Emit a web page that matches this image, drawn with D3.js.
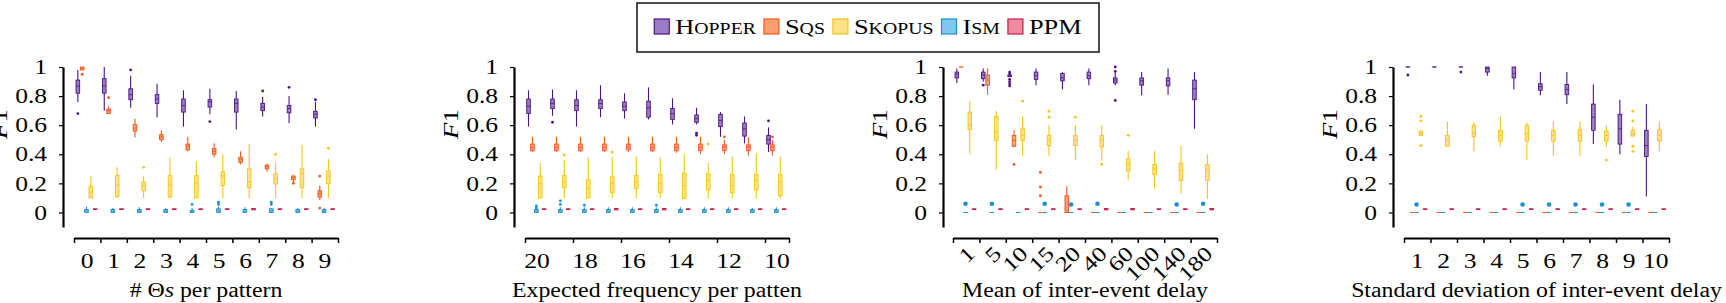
<!DOCTYPE html>
<html>
<head>
<meta charset="utf-8">
<script src="https://cdn.jsdelivr.net/npm/d3@7"></script>
<style>
  body { margin: 0; background: #fff; }
  svg text { font-family: "Liberation Serif", "DejaVu Serif", serif !important; fill: #000; }
</style>
</head>
<body>
<svg id="chart" width="1726" height="303"></svg>
<script>
// Box stats are [lower whisker, q1, median, q3, upper whisker]

// Panel 1: # Θs per pattern
var p1Cats = ["0", "1", "2", "3", "4", "5", "6", "7", "8", "9"];
var p1Hopper = [[0.76,0.82,0.87,0.91,0.98],[0.70,0.82,0.87,0.92,1.00],[0.72,0.775,0.81,0.85,0.94],[0.655,0.75,0.78,0.81,0.885],[0.59,0.69,0.735,0.78,0.84],
                [0.675,0.725,0.76,0.775,0.85],[0.57,0.69,0.75,0.78,0.835],[0.66,0.70,0.725,0.75,0.795],[0.615,0.685,0.715,0.735,0.80],[0.59,0.65,0.675,0.695,0.76]];
var p1HopperOut = [[0.68],[],[0.98],[],[],[0.625],[],[0.835],[0.86],[0.775]];
var p1Sqs = [[0.98,0.98,0.99,1.0,1.0],[0.675,0.68,0.70,0.71,0.73],[0.515,0.56,0.58,0.605,0.645],[0.485,0.50,0.52,0.535,0.565],[0.42,0.43,0.455,0.47,0.52],
             [0.38,0.40,0.42,0.44,0.475],[0.33,0.345,0.365,0.38,0.42],[0.28,0.30,0.315,0.325,0.335],[0.20,0.225,0.24,0.25,0.26],[0.085,0.105,0.13,0.15,0.185]];
var p1SqsOut = [[0.95],[0.79],[],[],[],[],[],[],[0.20],[0.25,0.03]];
var p1Skopus = [[0.10,0.10,0.14,0.18,0.25],[0.10,0.11,0.19,0.255,0.31],[0.10,0.15,0.185,0.21,0.25],[0.10,0.105,0.195,0.255,0.38],[0.10,0.10,0.20,0.255,0.35],
                [0.10,0.185,0.25,0.28,0.40],[0.10,0.17,0.21,0.30,0.47],[0.10,0.195,0.23,0.265,0.345],[0.10,0.17,0.265,0.30,0.465],[0.10,0.20,0.25,0.285,0.37]];
var p1SkopusOut = [[],[],[0.31],[],[],[],[],[0.40],[],[0.44]];
var p1Ism = [[0,0,0.01,0.02,0.04],[0,0,0.01,0.02,0.03],[0,0,0.01,0.02,0.035],[0,0,0.01,0.02,0.03],[0,0,0.005,0.015,0.03],
             [0,0,0.01,0.025,0.04],[0,0,0.01,0.02,0.035],[0,0,0.01,0.025,0.03],[0,0,0.01,0.02,0.03],[0,0,0.01,0.02,0.03]];
var p1IsmOut = [[],[],[],[],[0.055],[0.055,0.07],[],[0.055,0.07],[],[]];
var p1Ppm = [[0.02,0.02,0.022,0.025,0.025],[0.02,0.02,0.022,0.025,0.025],[0.02,0.02,0.022,0.025,0.025],[0.02,0.02,0.022,0.025,0.025],[0.02,0.02,0.022,0.025,0.025],
             [0.02,0.02,0.022,0.025,0.025],[0.018,0.018,0.022,0.027,0.027],[0.02,0.02,0.022,0.025,0.025],[0.02,0.02,0.022,0.025,0.025],[0.02,0.02,0.022,0.025,0.025]];
var p1PpmOut = [[],[],[],[],[],[],[],[],[],[]];

// Panel 2: expected frequency per pattern
var p2Cats = ["20", "19", "18", "17", "16", "15", "14", "13", "12", "11", "10"];
var p2Labels = ["20", "18", "16", "14", "12", "10"];
var p2Hopper = [[0.59,0.68,0.73,0.78,0.84],[0.665,0.715,0.75,0.78,0.845],[0.59,0.70,0.735,0.775,0.84],[0.655,0.715,0.75,0.775,0.875],[0.645,0.70,0.73,0.76,0.82],
                [0.64,0.655,0.72,0.765,0.86],[0.605,0.64,0.68,0.715,0.785],[0.605,0.62,0.645,0.67,0.72],[0.52,0.59,0.633,0.675,0.69],[0.475,0.525,0.575,0.615,0.66],[0.415,0.47,0.50,0.53,0.585]];
var p2HopperOut = [[],[0.62],[],[],[],[],[],[0.53,0.545],[],[],[0.63]];
var p2Sqs = [[0.415,0.425,0.45,0.47,0.52],[0.415,0.425,0.45,0.47,0.52],[0.415,0.425,0.45,0.47,0.52],[0.415,0.425,0.45,0.47,0.52],[0.415,0.43,0.45,0.47,0.52],
             [0.415,0.425,0.45,0.47,0.52],[0.41,0.425,0.45,0.47,0.52],[0.40,0.425,0.45,0.47,0.52],[0.40,0.425,0.45,0.465,0.50],[0.39,0.425,0.45,0.465,0.515],[0.39,0.425,0.45,0.465,0.50]];
var p2SqsOut = [[],[],[],[],[],[],[],[],[0.52],[],[0.52]];
var p2Skopus = [[0.10,0.10,0.20,0.25,0.34],[0.10,0.17,0.21,0.255,0.36],[0.10,0.10,0.165,0.225,0.38],[0.10,0.135,0.20,0.245,0.385],[0.10,0.165,0.21,0.255,0.385],
                [0.10,0.135,0.20,0.26,0.38],[0.095,0.095,0.185,0.27,0.40],[0.10,0.155,0.22,0.265,0.34],[0.10,0.135,0.185,0.26,0.385],[0.10,0.155,0.22,0.26,0.405],[0.10,0.115,0.21,0.26,0.385]];
var p2SkopusOut = [[],[0.395],[],[0.415],[],[],[],[0.47],[],[],[]];
var p2Ism = [[0,0,0.01,0.02,0.04],[0,0,0.01,0.02,0.035],[0,0,0.01,0.02,0.035],[0,0,0.01,0.02,0.035],[0,0,0.01,0.02,0.035],
             [0,0,0.01,0.02,0.035],[0,0,0.01,0.02,0.035],[0,0,0.01,0.02,0.035],[0,0,0.01,0.02,0.035],[0,0,0.01,0.02,0.03],[0,0,0.01,0.02,0.035]];
var p2IsmOut = [[0.03,0.045],[0.055,0.08],[0.05],[],[],[0.05],[],[],[],[],[]];
var p2Ppm = [[0.02,0.02,0.022,0.025,0.025],[0.02,0.02,0.022,0.025,0.025],[0.02,0.02,0.022,0.025,0.025],[0.018,0.018,0.022,0.027,0.027],[0.02,0.02,0.022,0.025,0.025],
             [0.018,0.018,0.022,0.027,0.027],[0.02,0.02,0.022,0.025,0.025],[0.02,0.02,0.022,0.025,0.025],[0.02,0.02,0.022,0.025,0.025],[0.02,0.02,0.022,0.025,0.025],[0.02,0.02,0.022,0.025,0.025]];
var p2PpmOut = [[],[],[],[],[],[],[],[],[],[],[]];

// Panel 3: mean of inter-event delay
var p3Cats = ["1", "5", "10", "15", "20", "40", "60", "100", "140", "180"];
var p3Hopper = [[0.89,0.925,0.95,0.965,0.99],[0.90,0.92,0.945,0.965,0.99],[0.93,0.935,0.94,0.945,0.95],[0.875,0.915,0.94,0.965,0.99],[0.845,0.905,0.925,0.955,0.965],
                [0.875,0.92,0.94,0.965,0.99],[0.875,0.89,0.91,0.925,0.965],[0.805,0.875,0.905,0.925,0.965],[0.81,0.87,0.905,0.925,0.99],[0.575,0.775,0.85,0.91,0.965]];
var p3HopperOut = [[],[0.875],[0.87,0.885,0.90,0.915,0.955,0.965],[],[],[],[0.77,0.97,1.0],[],[],[]];
var p3Sqs = [[1,1,1,1,1],[0.81,0.875,0.91,0.945,0.99],[0.45,0.455,0.495,0.53,0.565],[0,0,0,0,0],[0,0,0,0.115,0.18],
             [0,0,0,0,0],[0,0,0,0,0],[0,0,0,0,0],[0,0,0,0,0],[0,0,0,0,0]];
var p3SqsOut = [[],[],[0.33],[0.115,0.175,0.275],[],[],[],[],[],[]];
var p3Skopus = [[0.40,0.57,0.60,0.69,0.765],[0.295,0.495,0.555,0.66,0.70],[0.39,0.495,0.53,0.575,0.66],[0.39,0.46,0.495,0.53,0.60],[0.36,0.46,0.495,0.53,0.60],
                [0.355,0.45,0.50,0.53,0.60],[0.22,0.285,0.335,0.37,0.425],[0.165,0.26,0.30,0.33,0.425],[0.13,0.22,0.29,0.34,0.46],[0.095,0.22,0.295,0.33,0.40]];
var p3SkopusOut = [[],[],[0.765],[0.655,0.695],[0.655],[0.33],[0.53],[],[],[]];
var p3Ism = [[0,0,0,0,0],[0,0,0,0,0],[0,0,0,0,0],[0,0,0,0,0],[0,0,0,0,0],[0,0,0,0,0],[0,0,0,0,0],[0,0,0,0,0],[0,0,0,0,0],[0,0,0,0,0]];
var p3IsmOut = [[0.06],[0.06],[],[0.06],[0.055],[0.06],[],[],[0.055],[0.06]];
var p3Ppm = [[0.02,0.02,0.022,0.025,0.025],[0.02,0.02,0.022,0.025,0.025],[0.02,0.02,0.022,0.025,0.025],[0.02,0.02,0.022,0.025,0.025],[0.02,0.02,0.022,0.025,0.025],
             [0.018,0.018,0.022,0.027,0.027],[0.018,0.018,0.022,0.027,0.027],[0.02,0.02,0.022,0.025,0.025],[0.02,0.02,0.022,0.025,0.025],[0.018,0.018,0.022,0.027,0.027]];
var p3PpmOut = [[],[],[],[],[],[],[],[],[],[]];

// Panel 4: standard deviation of inter-event delay
var p4Cats = ["1", "2", "3", "4", "5", "6", "7", "8", "9", "10"];
var p4Hopper = [[1,1,1,1,1],[1,1,1,1,1],[1,1,1,1,1],[0.94,0.965,0.99,1,1],[0.845,0.925,0.955,1,1],
                [0.805,0.84,0.865,0.885,0.965],[0.745,0.81,0.845,0.88,0.965],[0.47,0.565,0.655,0.745,0.88],[0.40,0.47,0.575,0.675,0.775],[0.11,0.385,0.46,0.565,0.745]];
var p4HopperOut = [[0.945],[],[0.965],[],[],[],[],[],[],[]];
var p4Sqs = [[0,0,0,0,0],[0,0,0,0,0],[0,0,0,0,0],[0,0,0,0,0],[0,0,0,0,0],[0,0,0,0,0],[0,0,0,0,0],[0,0,0,0,0],[0,0,0,0,0],[0,0,0,0,0]];
var p4SqsOut = [[],[],[],[],[],[],[],[],[],[]];
var p4Skopus = [[0.53,0.53,0.545,0.56,0.56],[0.455,0.455,0.495,0.53,0.625],[0.42,0.52,0.545,0.60,0.62],[0.455,0.49,0.53,0.565,0.66],[0.36,0.49,0.54,0.60,0.62],
                [0.39,0.49,0.53,0.565,0.625],[0.39,0.49,0.53,0.57,0.625],[0.45,0.49,0.53,0.56,0.60],[0.525,0.525,0.54,0.565,0.59],[0.42,0.49,0.53,0.57,0.625]];
var p4SkopusOut = [[0.46,0.63,0.66],[],[],[],[],[],[],[0.36],[0.42,0.455,0.63,0.695],[]];
var p4Ism = [[0,0,0,0,0],[0,0,0,0,0],[0,0,0,0,0],[0,0,0,0,0],[0,0,0,0,0],[0,0,0,0,0],[0,0,0,0,0],[0,0,0,0,0],[0,0,0,0,0],[0,0,0,0,0]];
var p4IsmOut = [[0.055],[],[],[],[0.055],[0.055],[0.055],[0.055],[0.055],[]];
var p4Ppm = [[0.02,0.02,0.022,0.025,0.025],[0.02,0.02,0.022,0.025,0.025],[0.02,0.02,0.022,0.025,0.025],[0.02,0.02,0.022,0.025,0.025],[0.02,0.02,0.022,0.025,0.025],
             [0.02,0.02,0.022,0.025,0.025],[0.02,0.02,0.022,0.025,0.025],[0.02,0.02,0.022,0.025,0.025],[0.02,0.02,0.022,0.025,0.025],[0.02,0.02,0.022,0.025,0.025]];
var p4PpmOut = [[],[],[],[],[],[],[],[],[],[]];

var yTicks = [0, 0.2, 0.4, 0.6, 0.8, 1];

// Legend order and in-group order differ
var legendOrder = ["Hopper", "Sqs", "Skopus", "Ism", "PPM"];
var slotOrder = ["Hopper", "Sqs", "Ism", "Skopus", "PPM"];
var legendNames = {Hopper: ["H", "OPPER"], Sqs: ["S", "QS"], Skopus: ["S", "KOPUS"], Ism: ["I", "SM"], PPM: ["PPM", ""]};
var strokeCol = {Hopper: "#4a1486", Sqs: "#ee5a1c", Skopus: "#f7c21c", Ism: "#1e8fd0", PPM: "#c81c4a"};
var fillCol = {Hopper: "#9e7bc5", Sqs: "#fc9e70", Skopus: "#fde28a", Ism: "#84c7ec", PPM: "#ef8aa2"};

var serif = "'Liberation Serif', 'DejaVu Serif', serif";
var sx = 1.22;   // horizontal stretch of the original figure's text
var boxW = 3.6;

var panels = [
  {cats: p1Cats, labels: p1Cats, tickEvery: 1, left: 63, x0: 74, x1: 338, rotate: false, bigIsm: false,
   title: [["# Θ", false], ["s", true], [" per pattern", false]],
   series: {Hopper: [p1Hopper, p1HopperOut], Sqs: [p1Sqs, p1SqsOut], Skopus: [p1Skopus, p1SkopusOut], Ism: [p1Ism, p1IsmOut], PPM: [p1Ppm, p1PpmOut]}},
  {cats: p2Cats, labels: p2Labels, tickEvery: 2, left: 514, x0: 525, x1: 789, rotate: false, bigIsm: false,
   title: [["Expected frequency per patten", false]],
   series: {Hopper: [p2Hopper, p2HopperOut], Sqs: [p2Sqs, p2SqsOut], Skopus: [p2Skopus, p2SkopusOut], Ism: [p2Ism, p2IsmOut], PPM: [p2Ppm, p2PpmOut]}},
  {cats: p3Cats, labels: p3Cats, tickEvery: 1, left: 943, x0: 953, x1: 1217, rotate: true, bigIsm: true,
   title: [["Mean of inter-event delay", false]],
   series: {Hopper: [p3Hopper, p3HopperOut], Sqs: [p3Sqs, p3SqsOut], Skopus: [p3Skopus, p3SkopusOut], Ism: [p3Ism, p3IsmOut], PPM: [p3Ppm, p3PpmOut]}},
  {cats: p4Cats, labels: p4Cats, tickEvery: 1, left: 1393, x0: 1404, x1: 1669, rotate: false, bigIsm: true,
   title: [["Standard deviation of inter-event delay", false]],
   series: {Hopper: [p4Hopper, p4HopperOut], Sqs: [p4Sqs, p4SqsOut], Skopus: [p4Skopus, p4SkopusOut], Ism: [p4Ism, p4IsmOut], PPM: [p4Ppm, p4PpmOut]}}
];

var svg = d3.select("#chart");

var yScale = d3.scaleLinear().domain([-0.1, 1]).range([227, 67]);
var xAxisY = 238;

panels.forEach(function(p) {
  var g = svg.append("g");

  var xScale = d3.scaleBand().domain(p.cats).range([p.x0, p.x1]);
  var bw = xScale.bandwidth();
  var slot = d3.scalePoint().domain(slotOrder).range([0.146 * bw, 0.80 * bw]);
  var n = p.cats.length;
  var edge = d3.scaleLinear().domain([0, n]).range([p.x0, p.x1]);
  var edgeTicks = d3.range(0, n + 1).filter(function(k) { return k % p.tickEvery === 0 || k === n; });

  // y axis
  var yAxis = d3.axisLeft(yScale).tickValues(yTicks).tickSize(4).tickSizeOuter(0).tickPadding(9)
                .tickFormat(function(d) { return d === 0 ? "0" : d === 1 ? "1" : String(d); });
  var ya = g.append("g").attr("transform", "translate(" + p.left + ",0)").call(yAxis);
  ya.attr("font-family", serif);
  ya.select(".domain").attr("stroke-width", 2.2);
  ya.selectAll(".tick line").attr("stroke-width", 1.2);
  ya.selectAll(".tick text").style("font-size", "21px").style("font-family", serif).attr("transform", "scale(" + sx + ",1)");

  // y label
  var yl = g.append("text")
            .attr("transform", "translate(" + (p.left - 56) + ",124) rotate(-90) scale(" + sx + ",1)")
            .attr("text-anchor", "middle")
            .style("font-family", serif)
            .style("font-size", "22px");
  yl.append("tspan").style("font-style", "italic").text("F");
  yl.append("tspan").text("1");

  // x axis: line + boundary ticks
  var xa = g.append("g").attr("transform", "translate(0," + xAxisY + ")")
            .call(d3.axisBottom(edge).tickValues(edgeTicks).tickSize(5).tickSizeOuter(0).tickFormat(""));
  xa.select(".domain").attr("stroke-width", 2.2);
  xa.selectAll(".tick line").attr("stroke-width", 1.5);

  // x tick labels at band centres
  var xl = g.append("g").attr("transform", "translate(0," + xAxisY + ")")
            .call(d3.axisBottom(xScale).tickValues(p.labels).tickSize(0).tickPadding(15));
  xl.attr("font-family", serif);
  xl.select(".domain").remove();
  if (p.rotate) {
    xl.selectAll(".tick text")
      .attr("text-anchor", "end")
      .attr("x", null).attr("y", null).attr("dy", null)
      .attr("transform", "translate(10,17) rotate(-45) scale(" + sx + ",1)")
      .style("font-family", serif)
      .style("font-size", "21px");
  } else {
    xl.selectAll(".tick text").style("font-size", "21px").style("font-family", serif).attr("transform", "scale(" + sx + ",1)");
  }

  // x title
  var tt = g.append("text")
            .attr("transform", "translate(" + ((p.x0 + p.x1) / 2) + ",297) scale(1.19,1)")
            .attr("text-anchor", "middle")
            .style("font-family", serif)
            .style("font-size", "20px");
  p.title.forEach(function(t) {
    tt.append("tspan").style("font-style", t[1] ? "italic" : "normal").text(t[0]);
  });

  // boxes
  var boxes = [], outs = [];
  slotOrder.forEach(function(a) {
    var stats = p.series[a][0], ol = p.series[a][1];
    p.cats.forEach(function(c, i) {
      var cx = xScale(c) + slot(a);
      boxes.push({algo: a, cx: cx, s: stats[i]});
      ol[i].forEach(function(v) { outs.push({algo: a, cx: cx, v: v}); });
    });
  });

  var bg = g.selectAll(".box").data(boxes).enter().append("g").attr("class", "box");
  bg.append("line")
    .attr("x1", function(d) { return d.cx; }).attr("x2", function(d) { return d.cx; })
    .attr("y1", function(d) { return yScale(d.s[0]); }).attr("y2", function(d) { return yScale(d.s[4]); })
    .attr("stroke", function(d) { return strokeCol[d.algo]; })
    .attr("stroke-width", 1.1);
  bg.append("rect")
    .attr("x", function(d) { return d.cx - boxW / 2; })
    .attr("width", boxW)
    .attr("y", function(d) { return yScale(d.s[3]); })
    .attr("height", function(d) { return Math.max(0.01, yScale(d.s[1]) - yScale(d.s[3])); })
    .attr("fill", function(d) { return fillCol[d.algo]; })
    .attr("stroke", function(d) { return strokeCol[d.algo]; })
    .attr("stroke-width", 0.9);
  bg.append("line")
    .attr("x1", function(d) { return d.cx - boxW / 2; }).attr("x2", function(d) { return d.cx + boxW / 2; })
    .attr("y1", function(d) { return yScale(d.s[2]); }).attr("y2", function(d) { return yScale(d.s[2]); })
    .attr("stroke", function(d) { return strokeCol[d.algo]; })
    .attr("stroke-width", 0.8);

  g.selectAll(".out").data(outs).enter().append("circle").attr("class", "out")
    .attr("cx", function(d) { return d.cx; })
    .attr("cy", function(d) { return yScale(d.v); })
    .attr("r", function(d) { return (p.bigIsm && d.algo === "Ism") ? 2.3 : 1.4; })
    .attr("fill", function(d) { return strokeCol[d.algo]; });
});

// legend
var lg = svg.append("g");
var items = lg.append("g");
var cursor = 0;
legendOrder.forEach(function(a) {
  var it = items.append("g").attr("transform", "translate(" + cursor + ",0)");
  it.append("rect").attr("x", 0).attr("y", -15).attr("width", 15).attr("height", 15)
    .attr("fill", fillCol[a]).attr("stroke", strokeCol[a]).attr("stroke-width", 1.2);
  var t = it.append("text").attr("transform", "translate(21,0) scale(1.2,1)")
            .style("font-family", serif).style("font-size", "22px");
  t.append("tspan").text(legendNames[a][0]);
  t.append("tspan").style("font-size", "16.5px").text(legendNames[a][1]);
  cursor += 21 + t.node().getComputedTextLength() * 1.2 + 8;
});
var contentW = cursor - 8;
var boxL = 637, boxR = 1099;
items.attr("transform", "translate(" + ((boxL + boxR) / 2 - contentW / 2) + ",34)");
lg.insert("rect", ":first-child")
  .attr("x", boxL).attr("y", 3).attr("width", boxR - boxL).attr("height", 49)
  .attr("fill", "#fff").attr("stroke", "#000").attr("stroke-width", 1.4);
</script>
</body>
</html>
